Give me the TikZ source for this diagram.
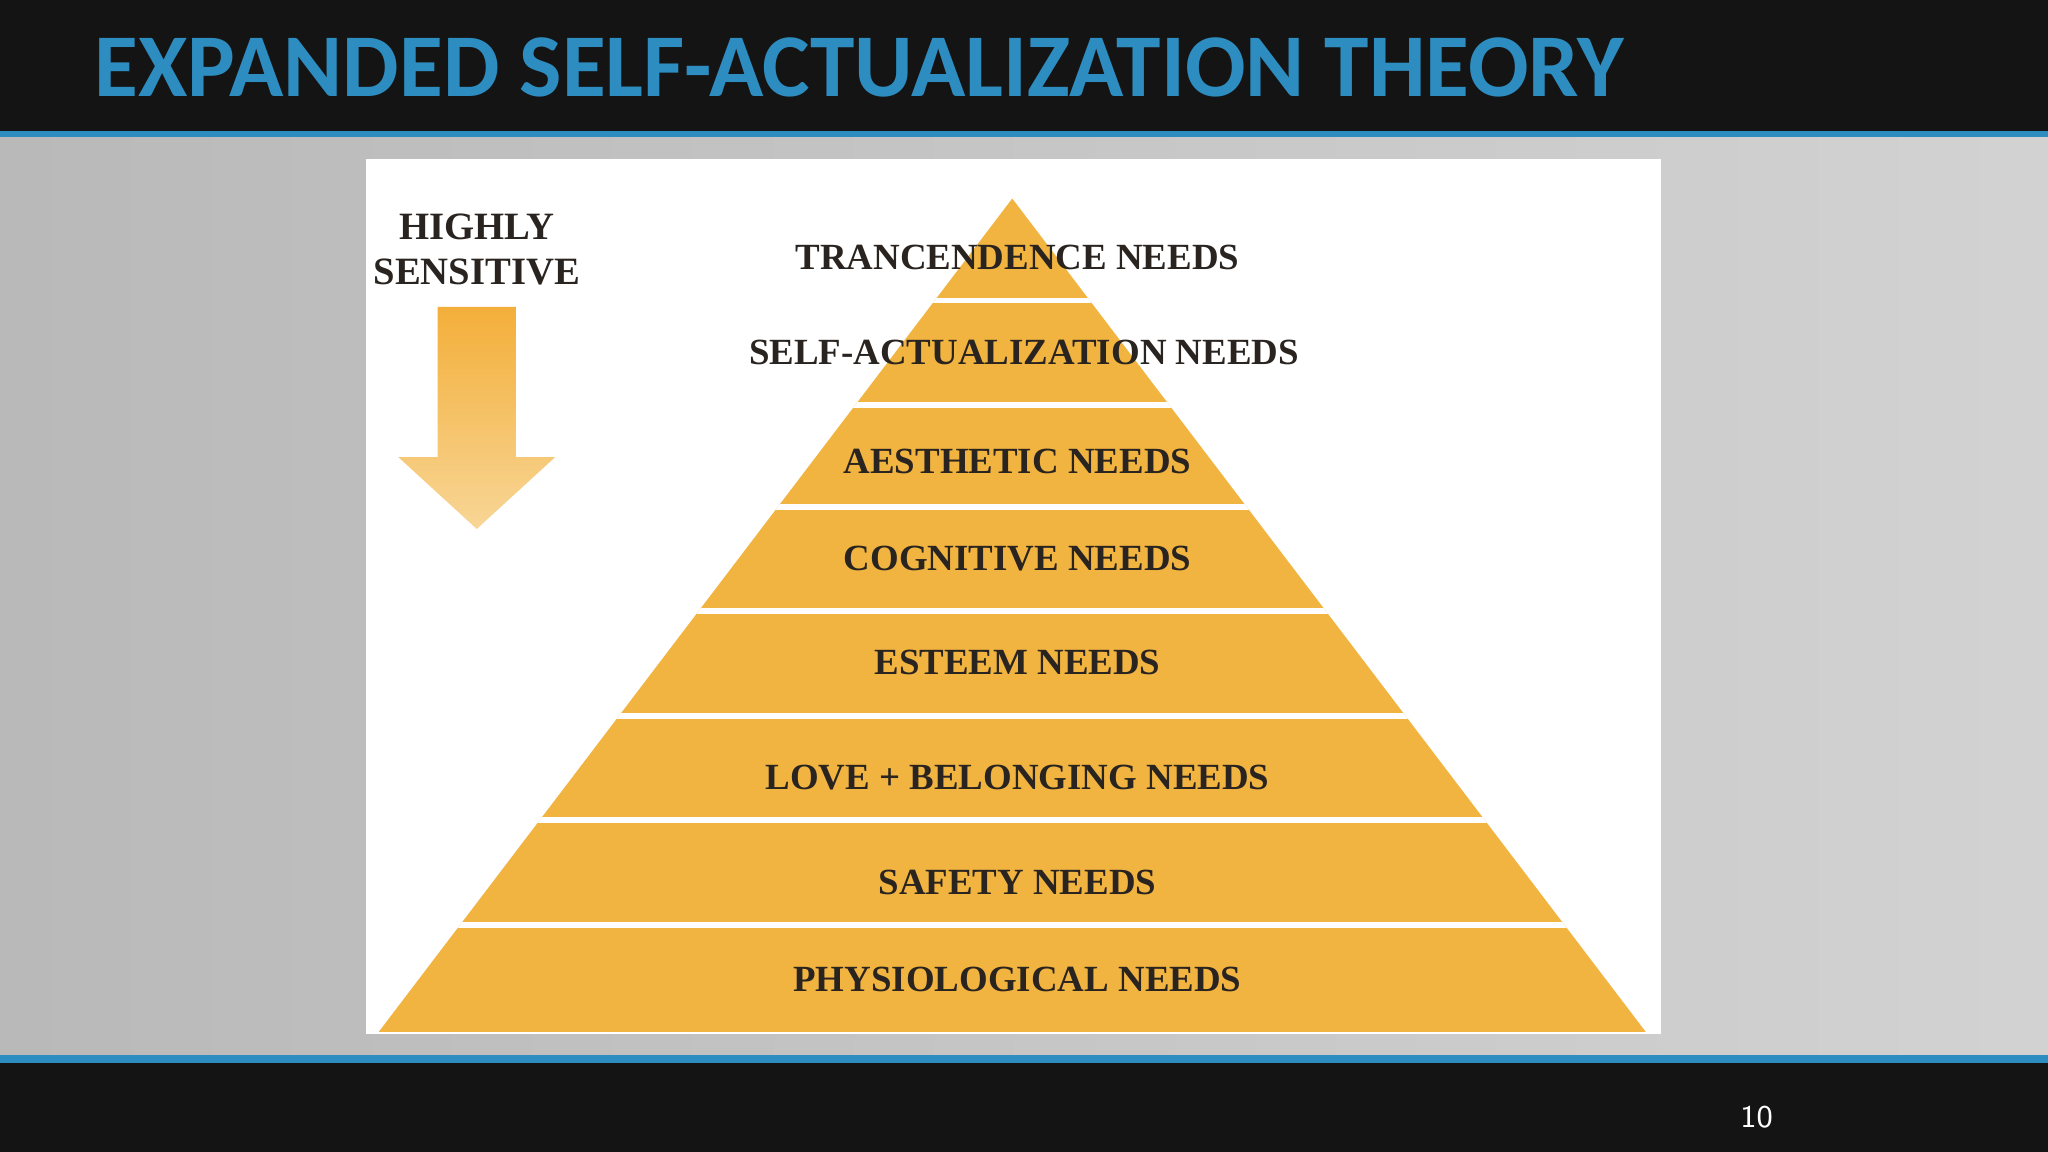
\documentclass[tikz,border=0pt]{standalone}
\usepackage{fontspec}
\setmainfont{Liberation Serif}
\newfontfamily\titlefont{Carlito}
\usetikzlibrary{shadings}
\definecolor{tblue}{HTML}{2E8DC0}
\definecolor{pyr}{HTML}{F2B440}
\definecolor{ptext}{HTML}{2A2420}
\begin{document}
\begin{tikzpicture}[x=0.013061cm,y=-0.013061cm,
  lbl/.style={font=\fontsize{10.5}{12}\selectfont\bfseries, text=ptext},
  side/.style={font=\fontsize{11}{13}\selectfont\bfseries, text=ptext, align=center}]
\useasboundingbox (0,0) rectangle (1568,882);
% backgrounds
\fill[left color=gray!55,right color=gray!35] (0,105) rectangle (1568,808);
\fill[black!92] (0,0) rectangle (1568,100);
\fill[tblue] (0,100) rectangle (1568,105);
\fill[tblue] (0,808) rectangle (1568,814);
\fill[black!92] (0,814) rectangle (1568,882);
\node[anchor=west,font=\titlefont\fontsize{25.5}{28}\selectfont\bfseries,text=tblue,inner sep=0] (title) at (72,52) {EXPANDED SELF-ACTUALIZATION THEORY};
\node[text=white,font=\fontsize{9}{10}\selectfont\sffamily] (pg) at (1345,855) {10};
% panel
\fill[white] (280,122) rectangle (1272,792);
% pyramid
\coordinate (apex) at (775,152);
\coordinate (bl) at (290,790);
\coordinate (br) at (1260,790);
\fill[pyr] (apex) -- (br) -- (bl) -- cycle;
\begin{scope}
\clip (apex) -- (br) -- (bl) -- cycle;
\foreach \y in {230,310,388,468,548,628,708}{
  \draw[white,line width=1.6pt] (280,\y) -- (1272,\y);}
\end{scope}
\node[lbl] (l1) at (779,197) {TRANCENDENCE NEEDS};
\node[lbl] (l2) at (784,270) {SELF-ACTUALIZATION NEEDS};
\node[lbl] (l3) at (779,353) {AESTHETIC NEEDS};
\node[lbl] (l4) at (779,428) {COGNITIVE NEEDS};
\node[lbl] (l5) at (779,507) {ESTEEM NEEDS};
\node[lbl] (l6) at (779,595) {LOVE + BELONGING NEEDS};
\node[lbl] (l7) at (779,676) {SAFETY NEEDS};
\node[lbl] (l8) at (779,750) {PHYSIOLOGICAL NEEDS};
% side
\node[side] (hs) at (365,191) {HIGHLY\\SENSITIVE};
\shade[top color=pyr!90!orange,bottom color=pyr!55!white]
  (335,235) -- (395,235) -- (395,350) -- (425,350) -- (365,405) -- (305,350) -- (335,350) -- cycle;
\coordinate (tip) at (365,405);
\end{tikzpicture}
\end{document}
